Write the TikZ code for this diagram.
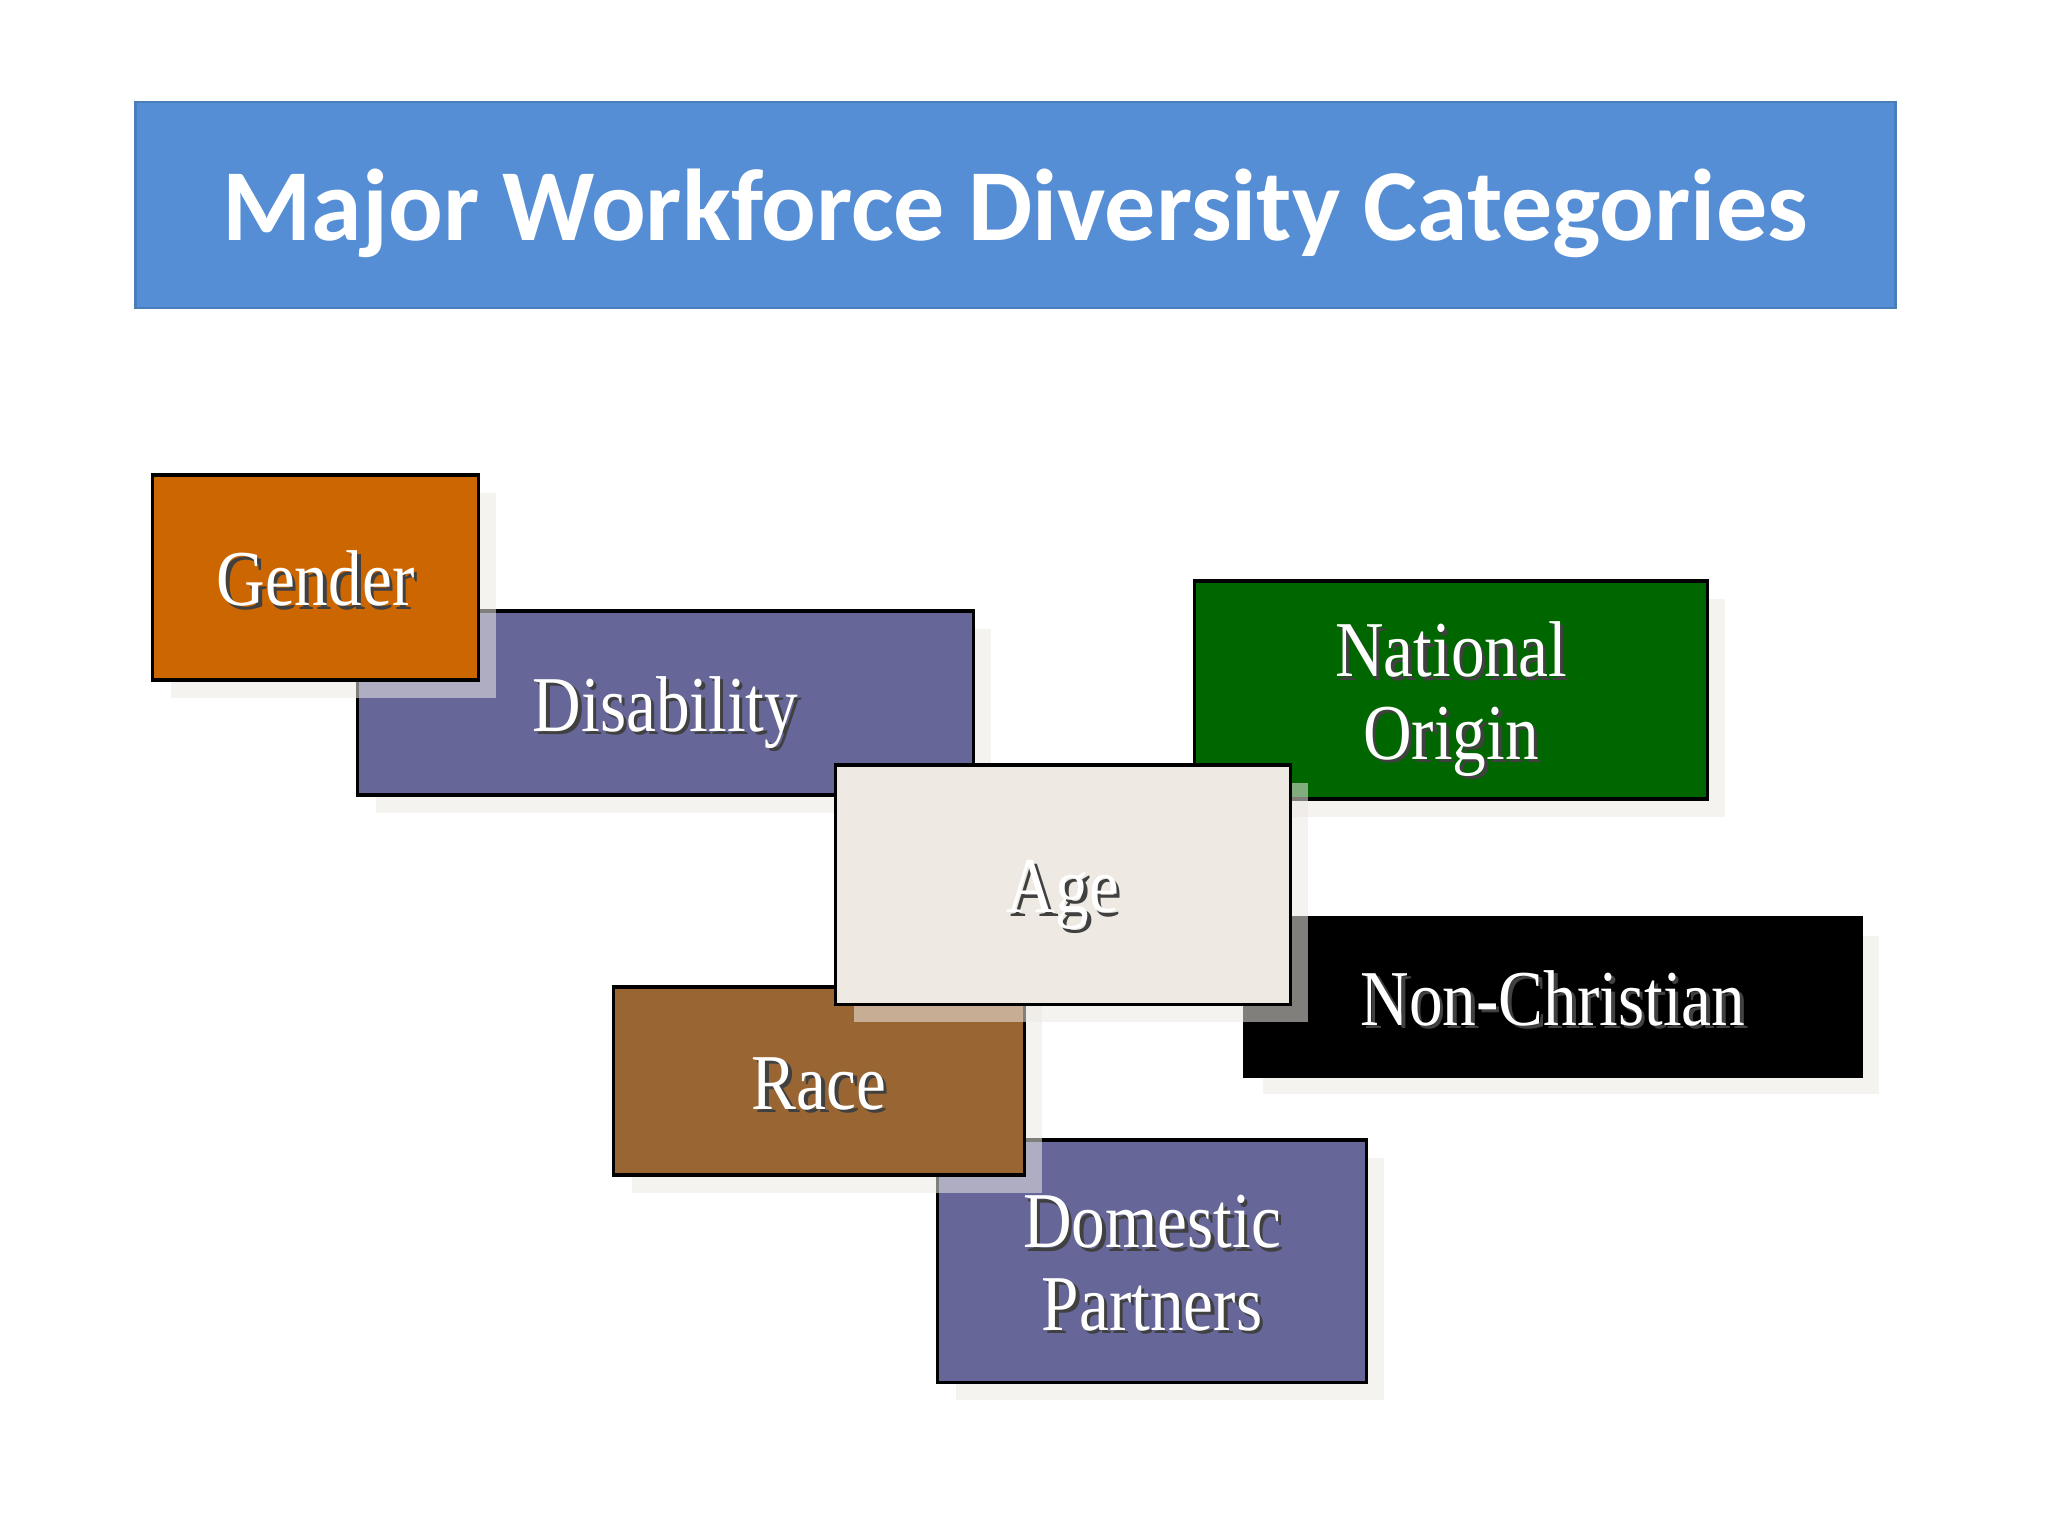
\documentclass[tikz,border=0pt]{standalone}
\usepackage{fontspec}
\usetikzlibrary{shadows}
\newfontfamily\titlefont{Carlito}
\newfontfamily\boxfont[FakeStretch=0.85]{Liberation Serif}
\definecolor{titleblue}{RGB}{85,142,213}
\definecolor{titleline}{RGB}{74,126,187}
\definecolor{genderorange}{RGB}{204,102,0}
\definecolor{disabpurple}{RGB}{102,102,153}
\definecolor{natgreen}{RGB}{0,102,0}
\definecolor{agegrey}{RGB}{238,234,227}
\definecolor{racebrown}{RGB}{153,102,51}
\definecolor{shadowgrey}{RGB}{236,233,227}
% white text with a dark shadow
\newcommand{\shtxt}[1]{\makebox[0pt][l]{\hspace{1pt}\raisebox{-1pt}{\color{black!75}#1}}#1}
\tikzset{
  catbox/.style={draw=black, line width=0.9pt, text=white, inner sep=0pt, align=center,
    font=\boxfont\fontsize{22.5}{23.5}\selectfont, text height=21pt, text depth=5pt,
    drop shadow={shadow xshift=0.18cm, shadow yshift=-0.18cm, fill=shadowgrey, opacity=0.55}},
  twolines/.style={text height=42pt, text depth=2.5pt}
}
\begin{document}
\begin{tikzpicture}[x=0.01cm, y=-0.01cm] %Categorias en pixeles
            \useasboundingbox (0,0) rectangle (2048,1536);

            \node[draw=titleline, line width=0.6pt, fill=titleblue, minimum width=17.59cm, minimum height=2.06cm,
                  text=white, font=\titlefont\bfseries\fontsize{29}{35}\selectfont, text height=29.4pt, text depth=9pt]
                  (title) at (1015.5,205) {Major Workforce Diversity Categories};

            \node[catbox, fill=disabpurple, minimum width=6.15cm, minimum height=1.84cm] (disab) at (665.5,703) {\shtxt{Disability}};
            \node[catbox, fill=genderorange, minimum width=3.25cm, minimum height=2.05cm] (gender) at (315.5,577.5) {\shtxt{Gender}};
            \node[catbox, twolines, fill=natgreen, minimum width=5.12cm, minimum height=2.18cm] (natorig) at (1451,690) {\shtxt{National}\\\shtxt{Origin}};
            \node[catbox, fill=black, minimum width=6.16cm, minimum height=1.58cm] (nonchr) at (1553,997) {\shtxt{Non-Christian}};
            \node[catbox, twolines, fill=disabpurple, minimum width=4.28cm, minimum height=2.42cm] (dompart) at (1152,1261) {\shtxt{Domestic}\\\shtxt{Partners}};
            \node[catbox, fill=racebrown, minimum width=4.10cm, minimum height=1.88cm] (race) at (819,1081) {\shtxt{Race}};
            \node[catbox, fill=agegrey, minimum width=4.54cm, minimum height=2.39cm] (age) at (1063,884.5) {\shtxt{Age}};
        \end{tikzpicture}
\end{document}
